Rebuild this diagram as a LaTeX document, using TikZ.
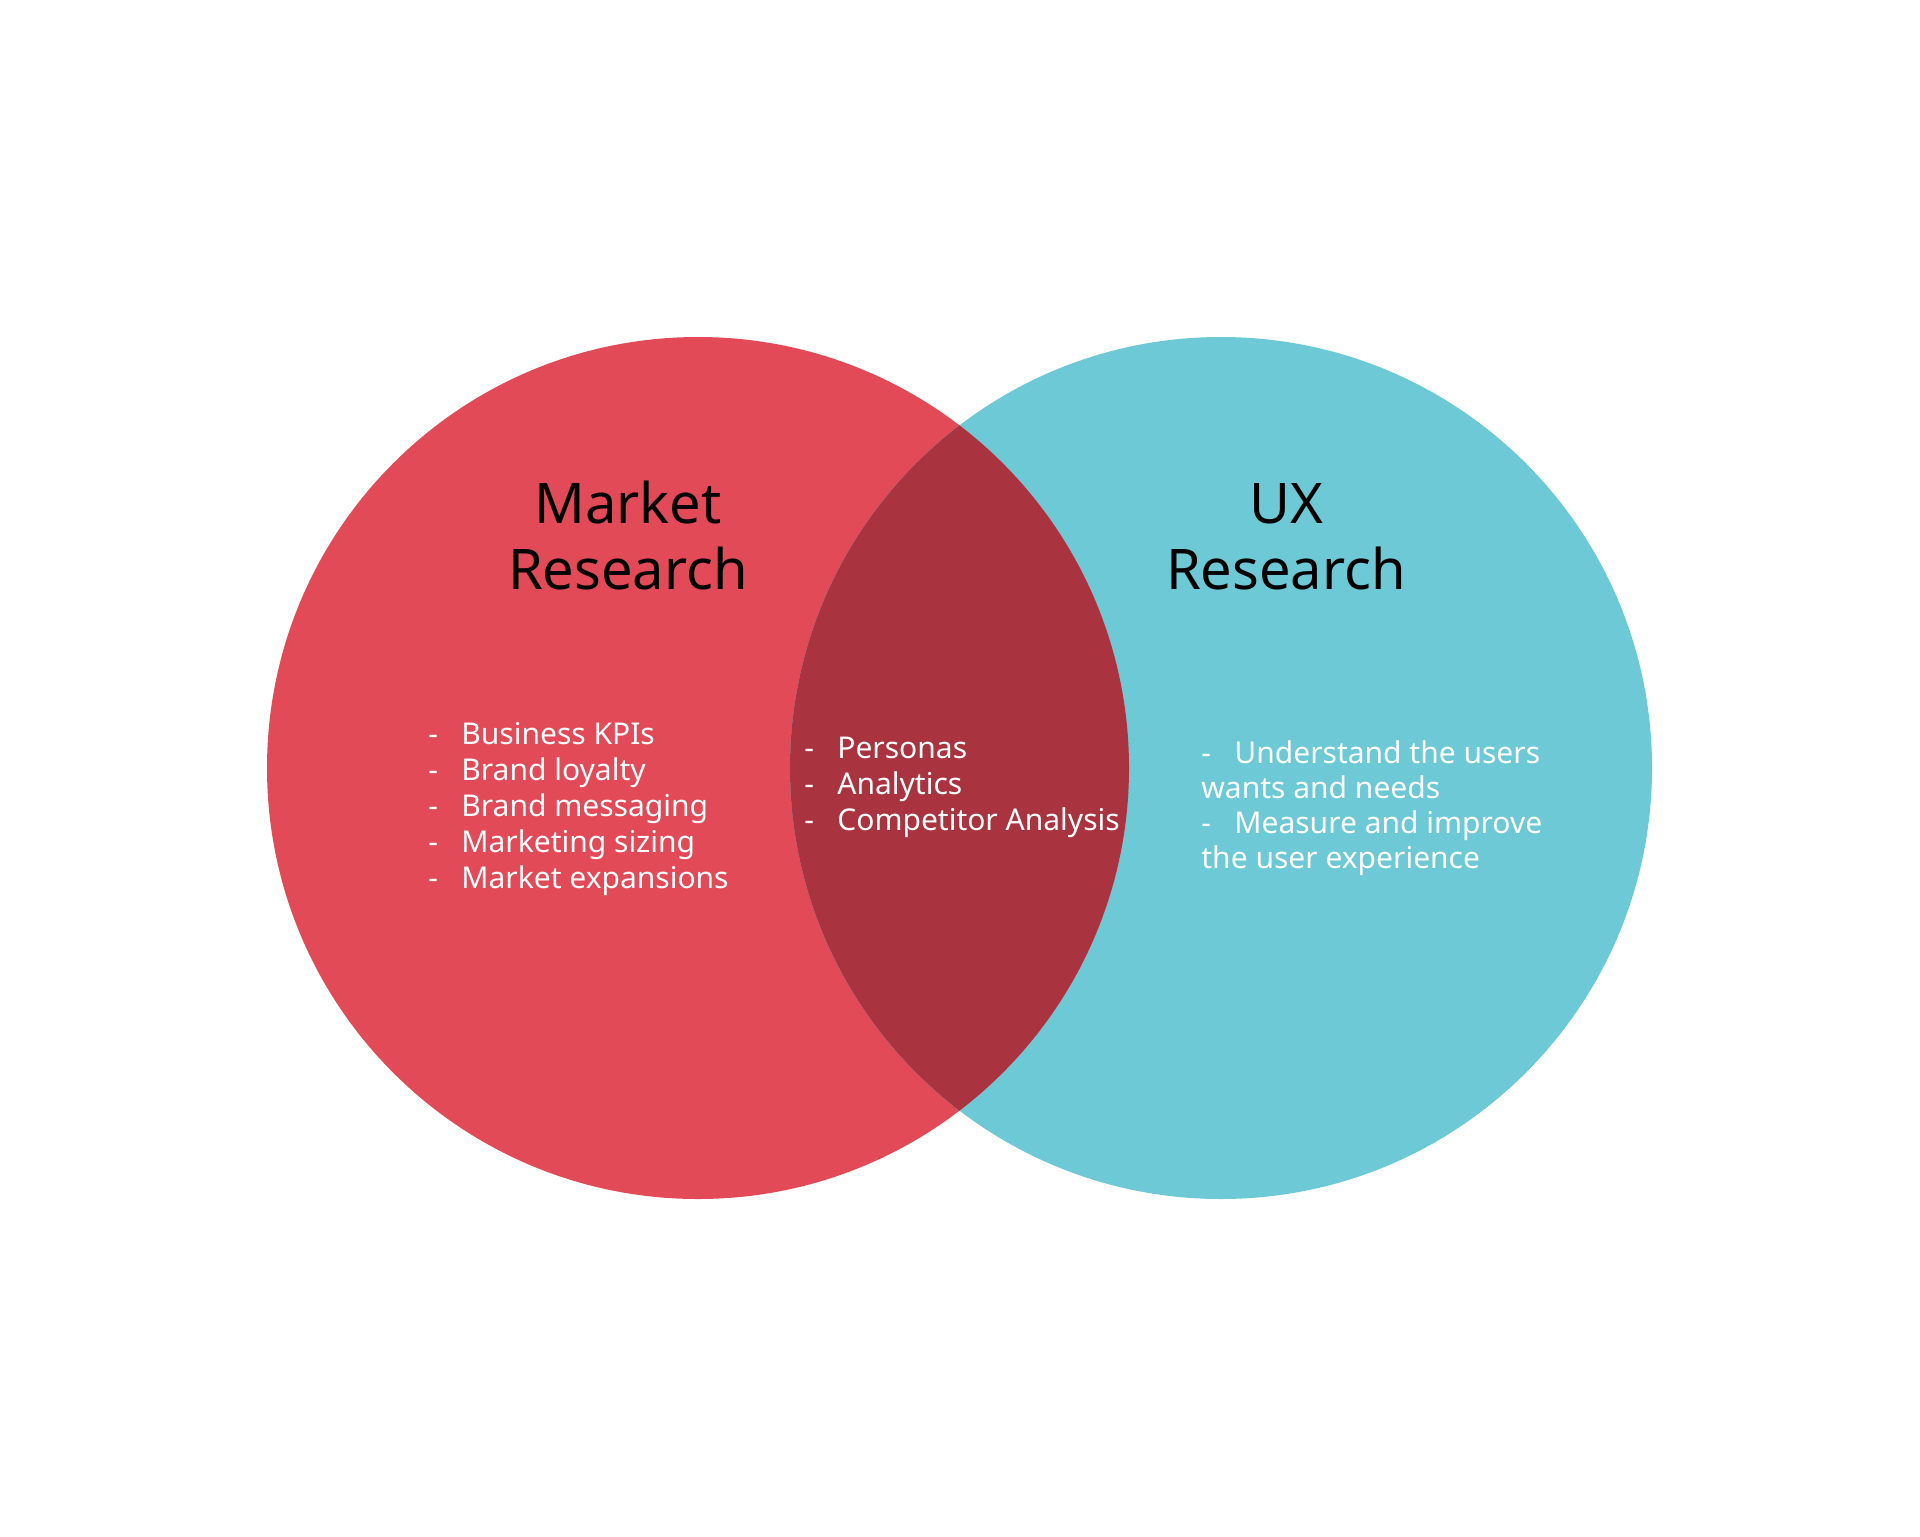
\documentclass[tikz,border=0pt]{standalone}
\usepackage{fontspec}
\setmainfont{Noto Sans}
\definecolor{mrred}{HTML}{E14A56}
\definecolor{uxteal}{HTML}{6CC9D5}
\definecolor{bothred}{HTML}{A93440}
\newcommand\dashtab{\makebox[16.5pt][l]{-}}
\tikzset{
    titletext/.style={anchor=base,inner sep=0pt,text=black,font=\fontsize{28}{33}\selectfont},
    itemtext/.style={anchor=base west,inner sep=0pt,text=white,font=\fontsize{15}{18}\selectfont}
}
\begin{document}
\begin{tikzpicture}[x=0.5pt,y=-0.5pt]
    \fill[white] (0,0) rectangle (1920,1536);
    \useasboundingbox (0,0) rectangle (1920,1536);
    %% the two sets
    \coordinate (mr) at (698,768);
    \coordinate (ux) at (1221,768);
    \fill[mrred] (mr) circle (431);
    \fill[uxteal] (ux) circle (431);
    %% overlap
    \begin{scope}
        \clip (mr) circle (431);
        \fill[bothred] (ux) circle (431);
    \end{scope}
    %% titles
    \node[titletext] (mrtitle) at (628,523) {Market};
    \node[titletext] (mrtitleb) at (628,589) {Research};
    \node[titletext] (uxtitle) at (1286,523) {UX};
    \node[titletext] (uxtitleb) at (1286,589) {Research};
    %% market research items
    \foreach \t [count=\i from 0] in {Business KPIs,Brand loyalty,Brand messaging,Marketing sizing,Market expansions}
        \node[itemtext] (mritem\i) at (428,744+36*\i) {\dashtab\t};
    %% shared items
    \foreach \t [count=\i from 0] in {Personas,Analytics,Competitor Analysis}
        \node[itemtext] (bothitem\i) at (804,758+36*\i) {\dashtab\t};
    %% ux research items
    \foreach \t [count=\i from 0] in {\dashtab Understand the users,wants and needs,\dashtab Measure and improve,the user experience}
        \node[itemtext] (uxitem\i) at (1201,763+35*\i) {\t};
\end{tikzpicture}
\end{document}
